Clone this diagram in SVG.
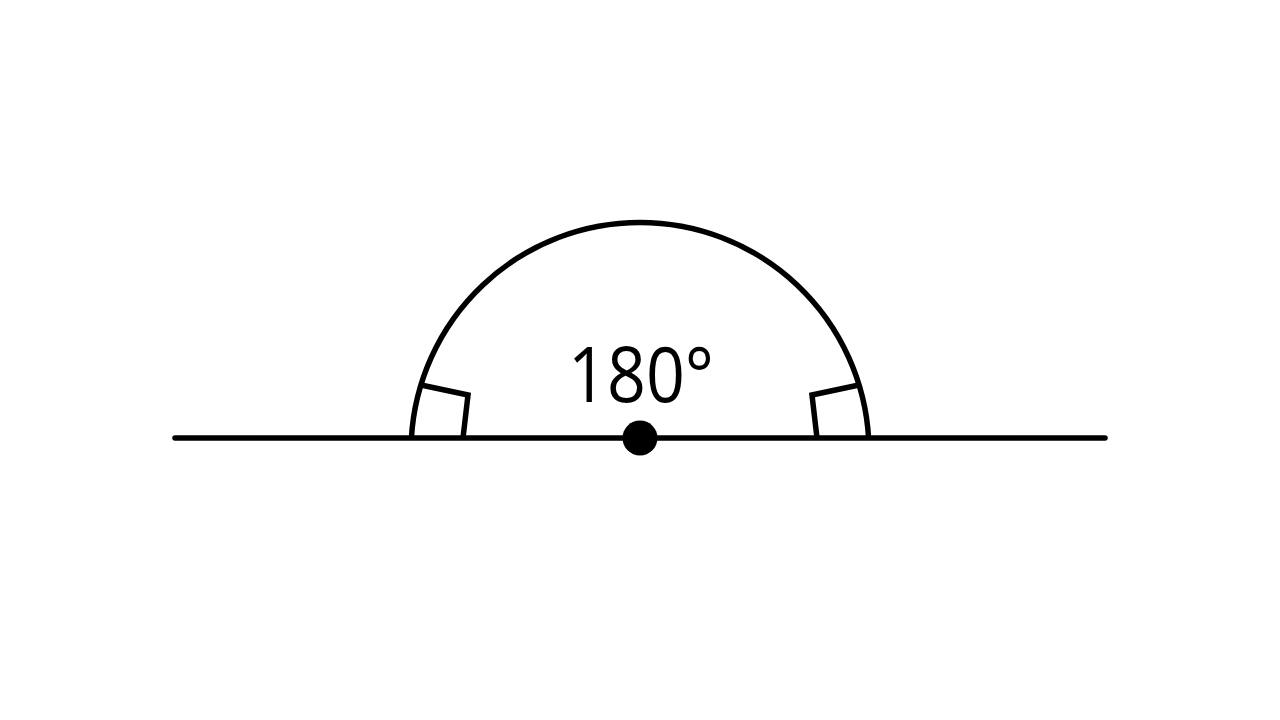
<svg xmlns="http://www.w3.org/2000/svg" width="1280" height="720" viewBox="0 0 1280 720">
<style>
.s{fill:none;stroke:#000;stroke-width:5.5}
.t{font-family:"Open Sans","Noto Sans",sans-serif;font-size:77px;fill:#000}
</style>
<rect width="1280" height="720" fill="#fff"/>
<g id="connectors">
<line class="s" x1="175" y1="438" x2="1105" y2="438" stroke-linecap="round"/>
<path class="s" d="M411.4,438 A229,229 0 0 1 868.6,438"/>
</g>
<g id="right-angle-left"><path class="s" d="M421,385 L468,395 L463,438"/></g>
<g id="right-angle-right"><path class="s" d="M859,385 L812,395 L817,438"/></g>
<g id="vertex"><circle cx="640" cy="438" r="17.5" fill="#000"/></g>
<g id="label"><text class="t" x="568" y="402" textLength="146" lengthAdjust="spacingAndGlyphs">180°</text></g>
</svg>
